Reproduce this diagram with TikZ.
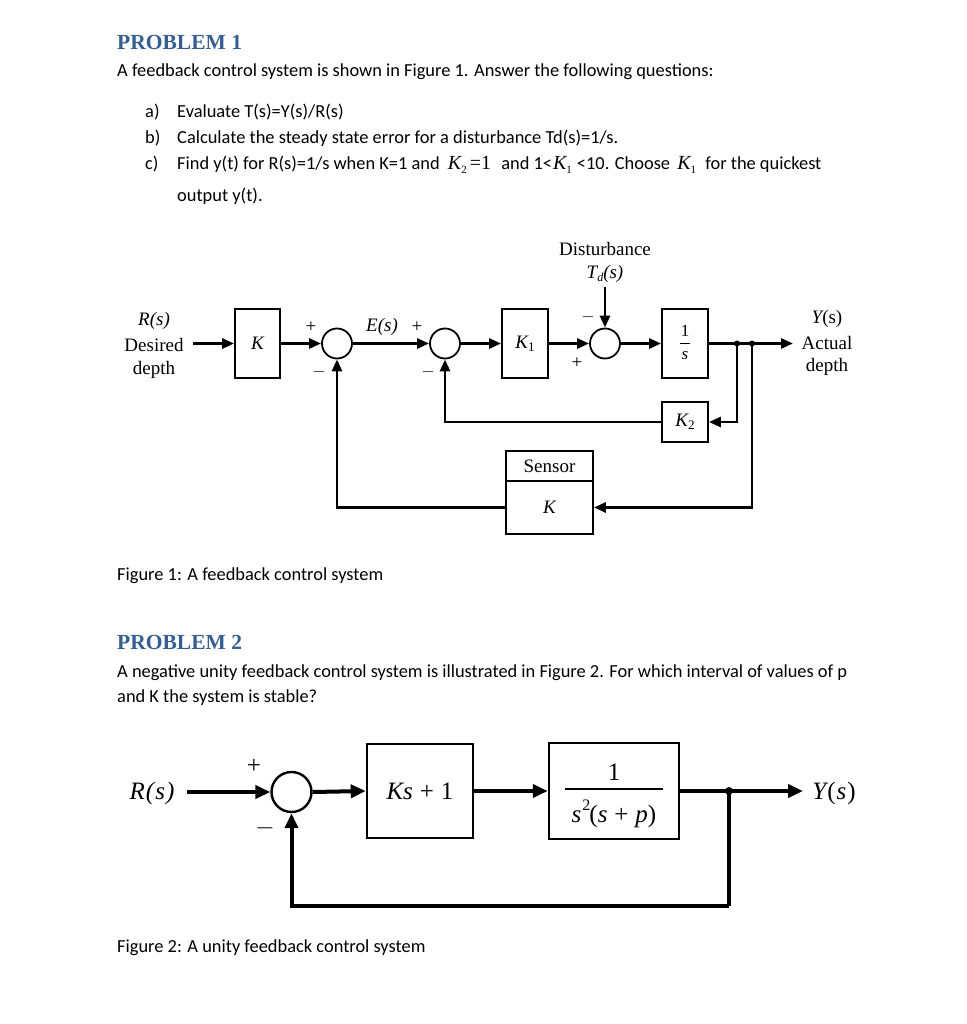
\documentclass[tikz,border=0pt]{standalone}
\usepackage{fontspec}
\setmainfont{Carlito}
\newfontfamily\tnr{Liberation Serif}
\usetikzlibrary{arrows.meta}
\definecolor{headblue}{RGB}{54,95,145}
\newcommand{\bodyf}{\fontsize{18.4}{22}\selectfont}
\newcommand{\headf}{\tnr\bfseries\fontsize{21.5}{26}\selectfont\color{headblue}}
\newcommand{\dgf}{\tnr\fontsize{19}{23}\selectfont}
\newcommand{\dgg}{\tnr\fontsize{25}{29}\selectfont}
\newcommand{\Ksub}[3]{{\itshape #1}\raisebox{-0.35ex}{\fontsize{#3}{#3}\selectfont #2}}
\newcommand{\eqK}[1]{{\tnr\fontsize{20}{20}\selectfont\Ksub{K}{#1}{11}}}
\begin{document}
\begin{tikzpicture}[x=1pt,y=-1pt,
  txt/.style={anchor=base west,inner sep=0pt,font=\bodyf},
  head/.style={anchor=base west,inner sep=0pt,font=\headf},
  lab/.style={inner sep=0pt,font=\dgf},
  labg/.style={inner sep=0pt,font=\dgg},
  blk/.style={draw,line width=1.8pt,inner sep=0pt,font=\dgf},
  blkg/.style={draw,line width=2.5pt,inner sep=0pt,font=\dgg},
  sumc/.style={circle,draw,line width=1.8pt,inner sep=0pt,minimum size=30pt},
  sumg/.style={circle,draw,line width=2.4pt,inner sep=0pt,minimum size=40pt},
  sig/.style={line width=2.8pt,-{Triangle[length=12pt,width=10pt]}},
  ln/.style={line width=2.8pt},
  sigg/.style={line width=4pt,-{Triangle[length=15pt,width=13pt]}},
  lng/.style={line width=4pt},
  jdot/.style={circle,fill,inner sep=0pt,minimum size=6pt},
  jdotg/.style={circle,fill,inner sep=0pt,minimum size=8pt}]
\useasboundingbox (0,0) rectangle (966,1024);
\fill[white] (0,0) rectangle (966,1024);

% ---------- Problem 1 text
\node[head] (h1) at (117,50) {PROBLEM 1};
\node[txt] (t1) at (117,77) {A feedback control system is shown in Figure 1. Answer the following questions:};
\node[txt] (la) at (145,118) {a)};
\node[txt] (ta) at (177,118) {Evaluate T(s)=Y(s)/R(s)};
\node[txt] (lb) at (145,144) {b)};
\node[txt] (tb) at (177,144) {Calculate the steady state error for a disturbance Td(s)=1/s.};
\node[txt] (lc) at (145,170) {c)};
\node[txt] (tc) at (177,170) {Find y(t) for R(s)=1/s when K=1 and \hspace{4pt}\eqK{2}\,{\tnr\fontsize{20}{20}\selectfont =1}\hspace{6pt} and 1<\hspace{1pt}\eqK{1}\hspace{5pt}<10. Choose \hspace{3pt}\eqK{1}\hspace{5pt} for the quickest};
\node[txt] (td2) at (177,202) {output y(t).};

% ---------- Figure 1
\node[lab] (rs) at (154,321) {\itshape R(s)};
\node[lab] (des) at (154,345) {Desired};
\node[lab] (dep) at (154,370) {depth};
\coordinate (rin) at (193,343.5);
\node[blk,minimum width=45pt,minimum height=69pt] (k) at (257.5,343.5) {\itshape K};
\node[sumc] (s1) at (337,343.5) {};
\node[sumc] (s2) at (445,343.5) {};
\node[blk,minimum width=46pt,minimum height=69pt] (k1) at (525,343.5) {\Ksub{K}{1}{13}};
\node[sumc] (s3) at (605,343.5) {};
\node[blk,minimum width=46pt,minimum height=69pt] (is) at (685,343.5) {};
\node[lab,font=\tnr\fontsize{17}{17}\selectfont] (one) at (685,331) {1};
\node[lab,font=\tnr\fontsize{17}{17}\selectfont\itshape] (ess) at (685,356) {s};
\draw[line width=1.2pt] (680,343.5) -- (690,343.5);
\node[blk,minimum width=46pt,minimum height=40pt] (k2) at (685,422) {\Ksub{K}{2}{13}};
\node[blk,minimum width=87pt,minimum height=30pt] (sens) at (549.5,466) {Sensor};
\node[blk,minimum width=87pt,minimum height=53pt] (sk) at (549.5,507.5) {\itshape K};

\node[lab] (p1) at (311,327) {+};
\node[lab] (m1) at (319,372) {$-$};
\node[lab] (es) at (382,327) {\itshape E(s)};
\node[lab] (p2) at (417,327) {+};
\node[lab] (m2) at (428,372) {$-$};
\node[lab] (dist) at (605,249) {Disturbance};
\node[lab] (tds) at (605,274) {{\itshape T}\raisebox{-0.3ex}{\fontsize{12}{12}\selectfont\itshape d}{\itshape(s)}};
\node[lab] (m3) at (588,317) {$-$};
\node[lab] (p3) at (577,363) {+};
\node[lab] (ys) at (827,319) {{\itshape Y}(s)};
\node[lab] (act) at (827,343) {Actual};
\node[lab] (dep2) at (827,367) {depth};

\coordinate (td) at (605,287);
\coordinate (yout) at (793,343.5);
\node[jdot] (j1) at (737,343.5) {};
\node[jdot] (j2) at (752,343.5) {};

\draw[sig] (rin) -- (k.west);
\draw[sig] (k.east) -- (s1.west);
\draw[sig] (s1.east) -- (s2.west);
\draw[sig] (s2.east) -- (k1.west);
\draw[sig] (k1.east) -- (s3.west);
\draw[sig] (s3.east) -- (is.west);
\draw[sig] (td) -- (s3.north);
\draw[sig] (is.east) -- (yout);
\draw[sig] (j1.center) |- (k2.east);
\draw[sig] (j2.center) |- (sk.east);
\draw[sig] (k2.west) -| (s2.south);
\draw[sig] (sk.west) -| (s1.south);

% ---------- captions and Problem 2 text
\node[txt] (c1) at (117,580) {Figure 1: A feedback control system};
\node[head] (h2) at (117,649) {PROBLEM 2};
\node[txt] (t2) at (117,677) {A negative unity feedback control system is illustrated in Figure 2. For which interval of values of p};
\node[txt] (t3) at (117,702) {and K the system is stable?};
\node[txt] (c2) at (117,952) {Figure 2: A unity feedback control system};

% ---------- Figure 2
\node[labg] (r2) at (152,793) {\itshape R\kern1pt(\kern1pt s\kern1pt)};
\coordinate (rin2) at (187,792);
\node[sumg] (s4) at (291.5,792) {};
\node[blkg,minimum width=106pt,minimum height=94pt] (ks) at (420,791) {{\itshape Ks}\;+\;1};
\node[blkg,minimum width=130pt,minimum height=96pt] (g) at (614,791) {};
\node[labg] (gn) at (614,772) {1};
\draw[line width=1.5pt] (565,789) -- (663,789);
\node[labg] (gd) at (614,814) {{\itshape s}\kern1pt\raisebox{1.0ex}{\fontsize{16}{16}\selectfont 2}\kern-1pt({\itshape s}\;+\;{\itshape p})};
\node[labg] (p4) at (254,766) {+};
\node[labg] (m4) at (265,828) {$-$};
\node[labg] (y2) at (834,793) {{\itshape Y}\kern1pt(\kern1pt{\itshape s}\kern1pt)};
\coordinate (yout2) at (803,791);
\node[jdotg] (j3) at (729,791) {};
\coordinate (fb2) at (729,906);

\draw[sigg] (rin2) -- (s4.west);
\draw[sigg] (s4.east) -- (ks.west);
\draw[sigg] (ks.east) -- (g.west);
\draw[sigg] (g.east) -- (yout2);
\draw[lng] (j3.center) -- (fb2);
\draw[sigg] (fb2) -| (s4.south);
\end{tikzpicture}
\end{document}
